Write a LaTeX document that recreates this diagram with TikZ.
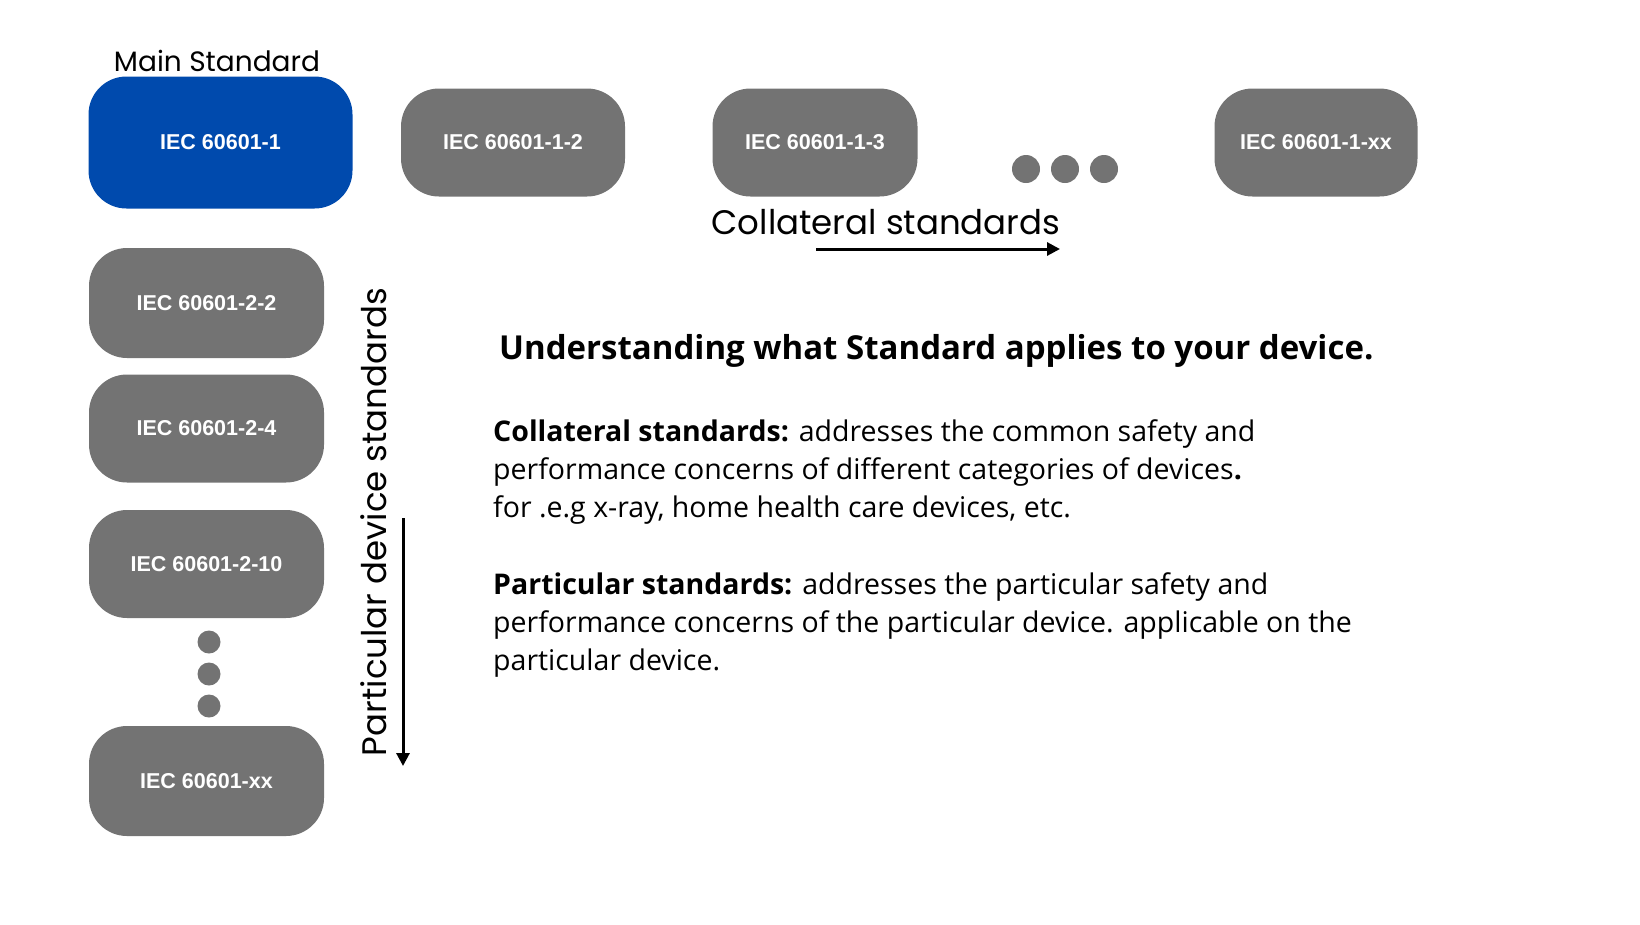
\documentclass[tikz,border=0pt]{standalone}
\usepackage{fontspec}
\setmainfont{Open Sans}
\newfontfamily\boxfont{Liberation Sans}
\newfontfamily\popfont{Poppins}
\usetikzlibrary{arrows.meta}
\definecolor{stdgray}{HTML}{737373}
\definecolor{stdblue}{HTML}{004AAD}
\tikzset{
  stdbox/.style={fill=stdgray, rounded corners=38pt, inner sep=0pt, text=white,
    font=\boxfont\fontsize{21.5}{24}\selectfont\bfseries},
  dotc/.style={circle, fill=stdgray, inner sep=0pt},
  lbl/.style={font=\popfont\fontsize{34}{40}\selectfont, inner sep=0pt},
  bodytxt/.style={font=\fontsize{28.5}{38}\selectfont, align=left, anchor=north west, inner sep=0pt},
  arr/.style={line width=3pt, -{Triangle[length=13pt,width=13pt]}}
}
\begin{document}
\begin{tikzpicture}[x=1pt,y=-1pt]
\path[use as bounding box] (0,0) rectangle (1640,924);
% main
\node[stdbox, fill=stdblue, minimum width=264pt, minimum height=132pt] (main) at (220.5,142.5) {IEC 60601-1};
\node[lbl, font=\popfont\fontsize{28}{32}\selectfont] (mainlbl) at (217,61) {Main Standard};
% collateral
\node[stdbox, minimum width=224pt, minimum height=108pt] (c2) at (513,142.5) {IEC 60601-1-2};
\node[stdbox, minimum width=205pt, minimum height=108pt] (c3) at (815,142.5) {IEC 60601-1-3};
\node[stdbox, minimum width=203pt, minimum height=108pt] (cxx) at (1316,142.5) {IEC 60601-1-xx};
\node[dotc, minimum size=28pt] (hd1) at (1026,169) {};
\node[dotc, minimum size=28pt] (hd2) at (1065,169) {};
\node[dotc, minimum size=28pt] (hd3) at (1104,169) {};
\node[lbl] (coll) at (886,222) {Collateral standards};
\coordinate (ca) at (816,249);
\coordinate (cb) at (1060,249);
\draw[arr] (ca) -- (cb);
% particular
\node[stdbox, minimum width=235pt, minimum height=110pt] (p2) at (206.5,303) {IEC 60601-2-2};
\node[stdbox, minimum width=235pt, minimum height=108pt] (p4) at (206.5,428.5) {IEC 60601-2-4};
\node[stdbox, minimum width=235pt, minimum height=108pt] (p10) at (206.5,564) {IEC 60601-2-10};
\node[dotc, minimum size=23pt] (vd1) at (209,642) {};
\node[dotc, minimum size=23pt] (vd2) at (209,674) {};
\node[dotc, minimum size=23pt] (vd3) at (209,706) {};
\node[stdbox, minimum width=235pt, minimum height=110pt] (pxx) at (206.5,781) {IEC 60601-xx};
\node[lbl, rotate=90] (part) at (374,522) {Particular device standards};
\coordinate (pa) at (403,518);
\coordinate (pb) at (403,766);
\draw[arr] (pa) -- (pb);
% text
\node[font=\fontsize{33}{38}\selectfont\bfseries, inner sep=0pt, anchor=west] (title) at (499,351) {Understanding what Standard applies to your device.};
\node[bodytxt] (t1) at (493,419) {\textbf{Collateral standards:} addresses the common safety and\\
performance concerns of different categories of devices\textbf{.}\\
for .e.g x-ray, home health care devices, etc.};
\node[bodytxt] (t2) at (493,572) {\textbf{Particular standards:} addresses the particular safety and\\
performance concerns of the particular device. applicable on the\\
particular device.};
\end{tikzpicture}
\end{document}
